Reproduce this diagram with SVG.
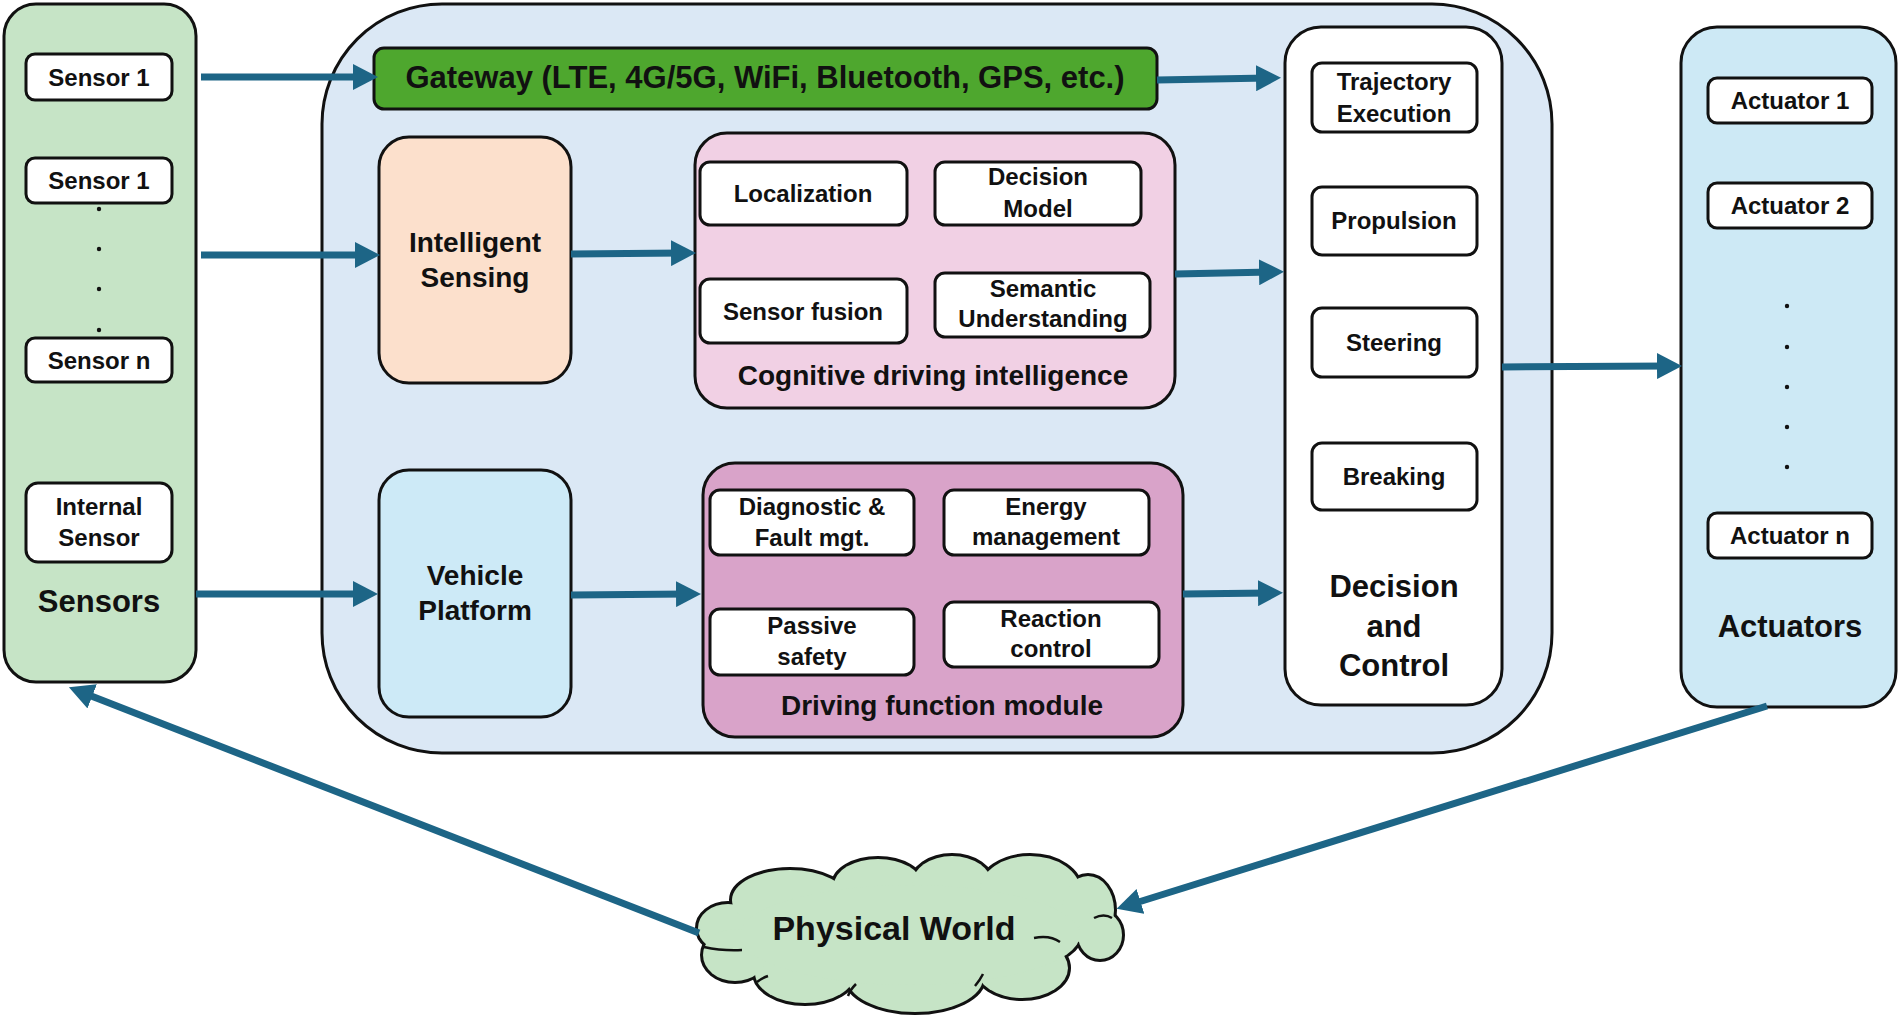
<svg xmlns="http://www.w3.org/2000/svg" width="1900" height="1016" viewBox="0 0 1900 1016">
<defs>
<style>
text{font-family:"Liberation Sans",Arial,sans-serif;font-weight:bold;fill:#111;text-anchor:middle}
.s24{font-size:24px}.s28{font-size:28px}.s31{font-size:31px}.s34{font-size:34px}
.pan{stroke:#111;stroke-width:3}
.box{fill:#fff;stroke:#111;stroke-width:3}
.dot{fill:#111}
.arr{stroke:#1d6586;stroke-width:7;fill:none;marker-end:url(#ah)}
.cl{fill:#c6e4c6}
</style>
<marker id="ah" markerUnits="userSpaceOnUse" markerWidth="26" markerHeight="26" refX="12" refY="13" orient="auto" viewBox="0 0 26 26">
<path d="M0,0 L25,13 L0,26 z" fill="#1d6586"/>
</marker>
</defs>
<rect width="1900" height="1016" fill="#fff"/>

<g id="sensors">
<rect class="pan" x="4" y="4" width="192" height="678" rx="32" fill="#c6e4c6"/>
<rect class="box" x="26" y="54" width="146" height="46" rx="9"/>
<text class="s24" x="99" y="86">Sensor 1</text>
<rect class="box" x="26" y="158" width="146" height="45" rx="9"/>
<text class="s24" x="99" y="189">Sensor 1</text>
<circle class="dot" cx="99" cy="209" r="2.2"/>
<circle class="dot" cx="99" cy="249" r="2.2"/>
<circle class="dot" cx="99" cy="289" r="2.2"/>
<circle class="dot" cx="99" cy="330" r="2.2"/>
<rect class="box" x="26" y="338" width="146" height="44" rx="9"/>
<text class="s24" x="99" y="369">Sensor n</text>
<rect class="box" x="26" y="483" width="146" height="79" rx="12"/>
<text class="s24" x="99" y="515">Internal</text>
<text class="s24" x="99" y="546">Sensor</text>
<text class="s31" x="99" y="612">Sensors</text>
</g>

<g id="platform">
<rect class="pan" x="322" y="4" width="1230" height="749" rx="120" fill="#dbe8f5"/>
</g>

<g id="gateway">
<rect class="pan" x="374" y="48" width="783" height="61" rx="10" fill="#4ea72e"/>
<text class="s31" x="765" y="88">Gateway (LTE, 4G/5G, WiFi, Bluetooth, GPS, etc.)</text>
</g>

<g id="intelligent-sensing">
<rect class="pan" x="379" y="137" width="192" height="246" rx="30" fill="#fce0cc"/>
<text class="s28" x="475" y="252">Intelligent</text>
<text class="s28" x="475" y="287">Sensing</text>
</g>

<g id="cognitive">
<rect class="pan" x="695" y="133" width="480" height="275" rx="32" fill="#f1d0e4"/>
<rect class="box" x="700" y="162" width="207" height="63" rx="10"/>
<text class="s24" x="803" y="202">Localization</text>
<rect class="box" x="935" y="162" width="206" height="63" rx="10"/>
<text class="s24" x="1038" y="185">Decision</text>
<text class="s24" x="1038" y="217">Model</text>
<rect class="box" x="700" y="279" width="207" height="64" rx="10"/>
<text class="s24" x="803" y="320">Sensor fusion</text>
<rect class="box" x="935" y="273" width="215" height="64" rx="10"/>
<text class="s24" x="1043" y="297">Semantic</text>
<text class="s24" x="1043" y="327">Understanding</text>
<text class="s28" x="933" y="385">Cognitive driving intelligence</text>
</g>

<g id="vehicle-platform">
<rect class="pan" x="379" y="470" width="192" height="247" rx="30" fill="#cdeaf7"/>
<text class="s28" x="475" y="585">Vehicle</text>
<text class="s28" x="475" y="620">Platform</text>
</g>

<g id="driving-function">
<rect class="pan" x="703" y="463" width="480" height="274" rx="32" fill="#d9a3c9"/>
<rect class="box" x="710" y="490" width="204" height="65" rx="10"/>
<text class="s24" x="812" y="515">Diagnostic &amp;</text>
<text class="s24" x="812" y="546">Fault mgt.</text>
<rect class="box" x="944" y="490" width="205" height="65" rx="10"/>
<text class="s24" x="1046" y="515">Energy</text>
<text class="s24" x="1046" y="545">management</text>
<rect class="box" x="710" y="609" width="204" height="66" rx="10"/>
<text class="s24" x="812" y="634">Passive</text>
<text class="s24" x="812" y="665">safety</text>
<rect class="box" x="944" y="602" width="215" height="65" rx="10"/>
<text class="s24" x="1051" y="627">Reaction</text>
<text class="s24" x="1051" y="657">control</text>
<text class="s28" x="942" y="715">Driving function module</text>
</g>

<g id="decision-control">
<rect class="pan" x="1285" y="27" width="217" height="678" rx="36" fill="#fff"/>
<rect class="box" x="1312" y="63" width="165" height="69" rx="10"/>
<text class="s24" x="1394" y="90">Trajectory</text>
<text class="s24" x="1394" y="122">Execution</text>
<rect class="box" x="1312" y="187" width="165" height="68" rx="10"/>
<text class="s24" x="1394" y="229">Propulsion</text>
<rect class="box" x="1312" y="308" width="165" height="69" rx="10"/>
<text class="s24" x="1394" y="351">Steering</text>
<rect class="box" x="1312" y="443" width="165" height="67" rx="10"/>
<text class="s24" x="1394" y="485">Breaking</text>
<text class="s31" x="1394" y="597">Decision</text>
<text class="s31" x="1394" y="637">and</text>
<text class="s31" x="1394" y="676">Control</text>
</g>

<g id="actuators">
<rect class="pan" x="1681" y="27" width="215" height="680" rx="36" fill="#cde9f5"/>
<rect class="box" x="1708" y="78" width="164" height="45" rx="9"/>
<text class="s24" x="1790" y="109">Actuator 1</text>
<rect class="box" x="1708" y="183" width="164" height="45" rx="9"/>
<text class="s24" x="1790" y="214">Actuator 2</text>
<circle class="dot" cx="1787" cy="306" r="2.2"/>
<circle class="dot" cx="1787" cy="347" r="2.2"/>
<circle class="dot" cx="1787" cy="387" r="2.2"/>
<circle class="dot" cx="1787" cy="427" r="2.2"/>
<circle class="dot" cx="1787" cy="467" r="2.2"/>
<rect class="box" x="1708" y="513" width="164" height="45" rx="9"/>
<text class="s24" x="1790" y="544">Actuator n</text>
<text class="s31" x="1790" y="637">Actuators</text>
</g>

<g id="physical-world">
<g class="cl" stroke="#111" stroke-width="6">
<ellipse cx="728" cy="928" rx="30" ry="24"/>
<ellipse cx="790" cy="900" rx="58" ry="30"/>
<ellipse cx="878" cy="885" rx="44" ry="26"/>
<ellipse cx="952" cy="884" rx="40" ry="28"/>
<ellipse cx="1030" cy="890" rx="50" ry="34"/>
<ellipse cx="1088" cy="910" rx="26" ry="34"/>
<ellipse cx="1100" cy="935" rx="22" ry="24"/>
<ellipse cx="1022" cy="968" rx="46" ry="30"/>
<ellipse cx="915" cy="978" rx="68" ry="34"/>
<ellipse cx="805" cy="973" rx="50" ry="30"/>
<ellipse cx="735" cy="955" rx="32" ry="26"/>
<ellipse cx="910" cy="935" rx="170" ry="50"/>
</g>
<g class="cl">
<ellipse cx="728" cy="928" rx="30" ry="24"/>
<ellipse cx="790" cy="900" rx="58" ry="30"/>
<ellipse cx="878" cy="885" rx="44" ry="26"/>
<ellipse cx="952" cy="884" rx="40" ry="28"/>
<ellipse cx="1030" cy="890" rx="50" ry="34"/>
<ellipse cx="1088" cy="910" rx="26" ry="34"/>
<ellipse cx="1100" cy="935" rx="22" ry="24"/>
<ellipse cx="1022" cy="968" rx="46" ry="30"/>
<ellipse cx="915" cy="978" rx="68" ry="34"/>
<ellipse cx="805" cy="973" rx="50" ry="30"/>
<ellipse cx="735" cy="955" rx="32" ry="26"/>
<ellipse cx="910" cy="935" rx="170" ry="50"/>
</g>
<g fill="none" stroke="#111" stroke-width="2.5">
<path d="M704,947 Q722,951 742,950"/>
<path d="M1094,918 Q1104,913 1112,918"/>
<path d="M1034,938 Q1050,935 1060,942"/>
<path d="M975,986 Q980,980 983,974"/>
<path d="M848,996 Q850,990 856,984"/>
<path d="M757,982 Q762,978 768,976"/>
</g>
<text class="s34" x="894" y="940">Physical World</text>
</g>

<g id="connectors">
<line class="arr" x1="201" y1="77" x2="365" y2="77"/>
<line class="arr" x1="201" y1="255" x2="367" y2="255"/>
<line class="arr" x1="571" y1="254" x2="683" y2="253"/>
<line class="arr" x1="1157" y1="80" x2="1268" y2="78"/>
<line class="arr" x1="1175" y1="274" x2="1271" y2="272"/>
<line class="arr" x1="196" y1="594" x2="365" y2="594"/>
<line class="arr" x1="571" y1="595" x2="688" y2="594"/>
<line class="arr" x1="1183" y1="594" x2="1270" y2="593"/>
<line class="arr" x1="1502" y1="367" x2="1669" y2="366"/>
<line class="arr" x1="699" y1="933" x2="81" y2="692"/>
<line class="arr" x1="1767" y1="706" x2="1129" y2="905"/>
</g>
</svg>
